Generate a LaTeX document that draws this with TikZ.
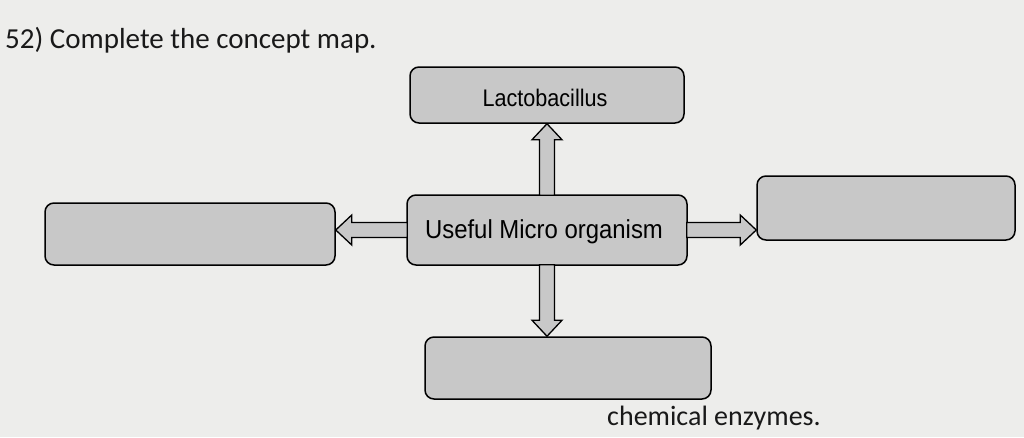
\documentclass[tikz,border=0pt]{standalone}
\usepackage{fontspec}
\setmainfont{Liberation Sans}
\newfontfamily\titlefont{Carlito}
\usetikzlibrary{calc}
\definecolor{paper}{HTML}{EDEDEB}
\definecolor{boxgray}{HTML}{C8C8C8}
\tikzset{
  cbox/.style={draw=black, line width=1.5pt, fill=boxgray, rounded corners=9pt,
    inner sep=0pt},
  boxtext/.style={font=\fontsize{24}{28}\selectfont, xscale=0.9, inner sep=0pt},
  arrowbody/.style={draw=black, line width=1.3pt, fill=boxgray, line join=miter},
  qtext/.style={font=\titlefont\fontsize{29}{34}\selectfont, text=black!90,
    inner sep=0pt, anchor=base west}
}
% block arrow from #1 to #2
\newcommand\blockarr[2]{%
  \coordinate (hb) at ($(#2)!16pt!(#1)$);
  \draw[arrowbody]
    ($(#1)!7.5pt!90:(#2)$) -- ($(hb)!7.5pt!90:(#2)$) -- ($(hb)!15pt!90:(#2)$)
    -- (#2) -- ($(hb)!15pt!-90:(#2)$) -- ($(hb)!7.5pt!-90:(#2)$)
    -- ($(#1)!7.5pt!-90:(#2)$) -- cycle;
}
\begin{document}
\begin{tikzpicture}[x=1pt,y=-1pt]
  \useasboundingbox (0,0) rectangle (1024,437);
  \clip (0,0) rectangle (1024,437);
  \fill[paper] (0,0) rectangle (1024,437);

  \node[qtext] (title) at (5,48) {52) Complete the concept map.};

  \node[cbox, minimum width=274pt, minimum height=56pt] (lacto) at (547,95) {};
  \node[boxtext] (lactotext) at (545,98) {Lactobacillus};
  \node[cbox, minimum width=280pt, minimum height=70pt] (useful) at (547,230) {};
  \node[boxtext, font=\fontsize{26}{30}\selectfont, xscale=0.92/0.9] (usefultext) at (544,232) {Useful Micro organism};
  \node[cbox, minimum width=290pt, minimum height=62pt] (left) at (190,234) {};
  \node[cbox, minimum width=258pt, minimum height=64pt] (right) at (886,208) {};
  \node[cbox, minimum width=286pt, minimum height=62pt] (bottom) at (568,368) {};

  \coordinate (upS) at ($(useful.north)+(0,1)$);
  \blockarr{upS}{lacto.south}
  \coordinate (dnS) at ($(useful.south)+(0,-1)$);
  \blockarr{dnS}{useful.south |- bottom.north}
  \coordinate (lfS) at ($(useful.west)+(1,0)$);
  \blockarr{lfS}{useful.west -| left.east}
  \coordinate (rtS) at ($(useful.east)+(-1,0)$);
  \blockarr{rtS}{useful.east -| right.west}

  \node[qtext, font=\titlefont\fontsize{28}{32}\selectfont] (tail) at (607,425) {chemical enzymes.};
\end{tikzpicture}
\end{document}
